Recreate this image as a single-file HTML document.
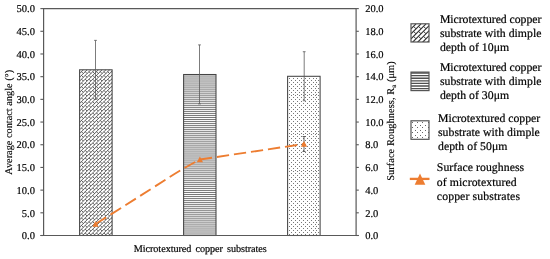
<!DOCTYPE html>
<html><head><meta charset="utf-8"><title>chart</title>
<style>
html,body{margin:0;padding:0;background:#fff;}
svg{display:block}
text{font-family:"Liberation Serif",serif;fill:#000;stroke:#000;stroke-width:0.18px;text-rendering:geometricPrecision}
</style></head><body>
<svg width="550" height="259" viewBox="0 0 550 259">
<rect width="550" height="259" fill="#fff"/>

<clipPath id="c1"><rect x="79.6" y="69.8" width="32.5" height="165.7"/></clipPath>
<path clip-path="url(#c1)" d="M79.6,73.55l3.75,-3.75M79.6,77.3l7.5,-7.5M79.6,81.05l11.25,-11.25M79.6,84.8l15,-15M79.6,88.55l18.75,-18.75M79.6,92.3l22.5,-22.5M79.6,96.05l26.25,-26.25M79.6,99.8l30,-30M79.6,103.55l33.75,-33.75M79.6,107.3l37.5,-37.5M79.6,111.05l41.25,-41.25M79.6,114.8l45,-45M79.6,118.55l48.75,-48.75M79.6,122.3l52.5,-52.5M79.6,126.05l56.25,-56.25M79.6,129.8l60,-60M79.6,133.55l63.75,-63.75M79.6,137.3l67.5,-67.5M79.6,141.05l71.25,-71.25M79.6,144.8l75,-75M79.6,148.55l78.75,-78.75M79.6,152.3l82.5,-82.5M79.6,156.05l86.25,-86.25M79.6,159.8l90,-90M79.6,163.55l93.75,-93.75M79.6,167.3l97.5,-97.5M79.6,171.05l101.25,-101.25M79.6,174.8l105,-105M79.6,178.55l108.75,-108.75M79.6,182.3l112.5,-112.5M79.6,186.05l116.25,-116.25M79.6,189.8l120,-120M79.6,193.55l123.75,-123.75M79.6,197.3l127.5,-127.5M79.6,201.05l131.25,-131.25M79.6,204.8l135,-135M79.6,208.55l138.75,-138.75M79.6,212.3l142.5,-142.5M79.6,216.05l146.25,-146.25M79.6,219.8l150,-150M79.6,223.55l153.75,-153.75M79.6,227.3l157.5,-157.5M79.6,231.05l161.25,-161.25M79.6,234.8l165,-165M79.6,238.55l168.75,-168.75M79.6,242.3l172.5,-172.5M79.6,246.05l176.25,-176.25M79.6,249.8l180,-180M79.6,253.55l183.75,-183.75M79.6,257.3l187.5,-187.5M79.6,261.05l191.25,-191.25M79.6,264.8l195,-195" stroke="#333" stroke-width="0.75" fill="none"/>
<path clip-path="url(#c1)" d="M77.72,67.92l1.88,1.88M77.72,71.67l1.88,1.88M77.72,75.42l1.88,1.88M77.72,79.17l1.88,1.88M77.72,82.92l1.88,1.88M77.72,86.67l1.88,1.88M77.72,90.42l1.88,1.88M77.72,94.17l1.88,1.88M77.72,97.92l1.88,1.88M77.72,101.67l1.88,1.88M77.72,105.42l1.88,1.88M77.72,109.17l1.88,1.88M77.72,112.92l1.88,1.88M77.72,116.67l1.88,1.88M77.72,120.42l1.88,1.88M77.72,124.17l1.88,1.88M77.72,127.92l1.88,1.88M77.72,131.68l1.88,1.88M77.72,135.43l1.88,1.88M77.72,139.18l1.88,1.88M77.72,142.93l1.88,1.88M77.72,146.68l1.88,1.88M77.72,150.43l1.88,1.88M77.72,154.18l1.88,1.88M77.72,157.93l1.88,1.88M77.72,161.68l1.88,1.88M77.72,165.43l1.88,1.88M77.72,169.18l1.88,1.88M77.72,172.93l1.88,1.88M77.72,176.68l1.88,1.88M77.72,180.43l1.88,1.88M77.72,184.18l1.88,1.88M77.72,187.93l1.88,1.88M77.72,191.68l1.88,1.88M77.72,195.43l1.88,1.88M77.72,199.18l1.88,1.88M77.72,202.93l1.88,1.88M77.72,206.68l1.88,1.88M77.72,210.43l1.88,1.88M77.72,214.18l1.88,1.88M77.72,217.93l1.88,1.88M77.72,221.68l1.88,1.88M77.72,225.43l1.88,1.88M77.72,229.18l1.88,1.88M77.72,232.93l1.88,1.88M77.72,236.68l1.88,1.88M77.72,240.43l1.88,1.88M81.47,67.92l1.88,1.88M81.47,71.67l1.88,1.88M81.47,75.42l1.88,1.88M81.47,79.17l1.88,1.88M81.47,82.92l1.88,1.88M81.47,86.67l1.88,1.88M81.47,90.42l1.88,1.88M81.47,94.17l1.88,1.88M81.47,97.92l1.88,1.88M81.47,101.67l1.88,1.88M81.47,105.42l1.88,1.88M81.47,109.17l1.88,1.88M81.47,112.92l1.88,1.88M81.47,116.67l1.88,1.88M81.47,120.42l1.88,1.88M81.47,124.17l1.88,1.88M81.47,127.92l1.88,1.88M81.47,131.68l1.88,1.88M81.47,135.43l1.88,1.88M81.47,139.18l1.88,1.88M81.47,142.93l1.88,1.88M81.47,146.68l1.88,1.88M81.47,150.43l1.88,1.88M81.47,154.18l1.88,1.88M81.47,157.93l1.88,1.88M81.47,161.68l1.88,1.88M81.47,165.43l1.88,1.88M81.47,169.18l1.88,1.88M81.47,172.93l1.88,1.88M81.47,176.68l1.88,1.88M81.47,180.43l1.88,1.88M81.47,184.18l1.88,1.88M81.47,187.93l1.88,1.88M81.47,191.68l1.88,1.88M81.47,195.43l1.88,1.88M81.47,199.18l1.88,1.88M81.47,202.93l1.88,1.88M81.47,206.68l1.88,1.88M81.47,210.43l1.88,1.88M81.47,214.18l1.88,1.88M81.47,217.93l1.88,1.88M81.47,221.68l1.88,1.88M81.47,225.43l1.88,1.88M81.47,229.18l1.88,1.88M81.47,232.93l1.88,1.88M81.47,236.68l1.88,1.88M81.47,240.43l1.88,1.88M85.22,67.92l1.88,1.88M85.22,71.67l1.88,1.88M85.22,75.42l1.88,1.88M85.22,79.17l1.88,1.88M85.22,82.92l1.88,1.88M85.22,86.67l1.88,1.88M85.22,90.42l1.88,1.88M85.22,94.17l1.88,1.88M85.22,97.92l1.88,1.88M85.22,101.67l1.88,1.88M85.22,105.42l1.88,1.88M85.22,109.17l1.88,1.88M85.22,112.92l1.88,1.88M85.22,116.67l1.88,1.88M85.22,120.42l1.88,1.88M85.22,124.17l1.88,1.88M85.22,127.92l1.88,1.88M85.22,131.68l1.88,1.88M85.22,135.43l1.88,1.88M85.22,139.18l1.88,1.88M85.22,142.93l1.88,1.88M85.22,146.68l1.88,1.88M85.22,150.43l1.88,1.88M85.22,154.18l1.88,1.88M85.22,157.93l1.88,1.88M85.22,161.68l1.88,1.88M85.22,165.43l1.88,1.88M85.22,169.18l1.88,1.88M85.22,172.93l1.88,1.88M85.22,176.68l1.88,1.88M85.22,180.43l1.88,1.88M85.22,184.18l1.88,1.88M85.22,187.93l1.88,1.88M85.22,191.68l1.88,1.88M85.22,195.43l1.88,1.88M85.22,199.18l1.88,1.88M85.22,202.93l1.88,1.88M85.22,206.68l1.88,1.88M85.22,210.43l1.88,1.88M85.22,214.18l1.88,1.88M85.22,217.93l1.88,1.88M85.22,221.68l1.88,1.88M85.22,225.43l1.88,1.88M85.22,229.18l1.88,1.88M85.22,232.93l1.88,1.88M85.22,236.68l1.88,1.88M85.22,240.43l1.88,1.88M88.97,67.92l1.88,1.88M88.97,71.67l1.88,1.88M88.97,75.42l1.88,1.88M88.97,79.17l1.88,1.88M88.97,82.92l1.88,1.88M88.97,86.67l1.88,1.88M88.97,90.42l1.88,1.88M88.97,94.17l1.88,1.88M88.97,97.92l1.88,1.88M88.97,101.67l1.88,1.88M88.97,105.42l1.88,1.88M88.97,109.17l1.88,1.88M88.97,112.92l1.88,1.88M88.97,116.67l1.88,1.88M88.97,120.42l1.88,1.88M88.97,124.17l1.88,1.88M88.97,127.92l1.88,1.88M88.97,131.68l1.88,1.88M88.97,135.43l1.88,1.88M88.97,139.18l1.88,1.88M88.97,142.93l1.88,1.88M88.97,146.68l1.88,1.88M88.97,150.43l1.88,1.88M88.97,154.18l1.88,1.88M88.97,157.93l1.88,1.88M88.97,161.68l1.88,1.88M88.97,165.43l1.88,1.88M88.97,169.18l1.88,1.88M88.97,172.93l1.88,1.88M88.97,176.68l1.88,1.88M88.97,180.43l1.88,1.88M88.97,184.18l1.88,1.88M88.97,187.93l1.88,1.88M88.97,191.68l1.88,1.88M88.97,195.43l1.88,1.88M88.97,199.18l1.88,1.88M88.97,202.93l1.88,1.88M88.97,206.68l1.88,1.88M88.97,210.43l1.88,1.88M88.97,214.18l1.88,1.88M88.97,217.93l1.88,1.88M88.97,221.68l1.88,1.88M88.97,225.43l1.88,1.88M88.97,229.18l1.88,1.88M88.97,232.93l1.88,1.88M88.97,236.68l1.88,1.88M88.97,240.43l1.88,1.88M92.72,67.92l1.88,1.88M92.72,71.67l1.88,1.88M92.72,75.42l1.88,1.88M92.72,79.17l1.88,1.88M92.72,82.92l1.88,1.88M92.72,86.67l1.88,1.88M92.72,90.42l1.88,1.88M92.72,94.17l1.88,1.88M92.72,97.92l1.88,1.88M92.72,101.67l1.88,1.88M92.72,105.42l1.88,1.88M92.72,109.17l1.88,1.88M92.72,112.92l1.88,1.88M92.72,116.67l1.88,1.88M92.72,120.42l1.88,1.88M92.72,124.17l1.88,1.88M92.72,127.92l1.88,1.88M92.72,131.68l1.88,1.88M92.72,135.43l1.88,1.88M92.72,139.18l1.88,1.88M92.72,142.93l1.88,1.88M92.72,146.68l1.88,1.88M92.72,150.43l1.88,1.88M92.72,154.18l1.88,1.88M92.72,157.93l1.88,1.88M92.72,161.68l1.88,1.88M92.72,165.43l1.88,1.88M92.72,169.18l1.88,1.88M92.72,172.93l1.88,1.88M92.72,176.68l1.88,1.88M92.72,180.43l1.88,1.88M92.72,184.18l1.88,1.88M92.72,187.93l1.88,1.88M92.72,191.68l1.88,1.88M92.72,195.43l1.88,1.88M92.72,199.18l1.88,1.88M92.72,202.93l1.88,1.88M92.72,206.68l1.88,1.88M92.72,210.43l1.88,1.88M92.72,214.18l1.88,1.88M92.72,217.93l1.88,1.88M92.72,221.68l1.88,1.88M92.72,225.43l1.88,1.88M92.72,229.18l1.88,1.88M92.72,232.93l1.88,1.88M92.72,236.68l1.88,1.88M92.72,240.43l1.88,1.88M96.47,67.92l1.88,1.88M96.47,71.67l1.88,1.88M96.47,75.42l1.88,1.88M96.47,79.17l1.88,1.88M96.47,82.92l1.88,1.88M96.47,86.67l1.88,1.88M96.47,90.42l1.88,1.88M96.47,94.17l1.88,1.88M96.47,97.92l1.88,1.88M96.47,101.67l1.88,1.88M96.47,105.42l1.88,1.88M96.47,109.17l1.88,1.88M96.47,112.92l1.88,1.88M96.47,116.67l1.88,1.88M96.47,120.42l1.88,1.88M96.47,124.17l1.88,1.88M96.47,127.92l1.88,1.88M96.47,131.68l1.88,1.88M96.47,135.43l1.88,1.88M96.47,139.18l1.88,1.88M96.47,142.93l1.88,1.88M96.47,146.68l1.88,1.88M96.47,150.43l1.88,1.88M96.47,154.18l1.88,1.88M96.47,157.93l1.88,1.88M96.47,161.68l1.88,1.88M96.47,165.43l1.88,1.88M96.47,169.18l1.88,1.88M96.47,172.93l1.88,1.88M96.47,176.68l1.88,1.88M96.47,180.43l1.88,1.88M96.47,184.18l1.88,1.88M96.47,187.93l1.88,1.88M96.47,191.68l1.88,1.88M96.47,195.43l1.88,1.88M96.47,199.18l1.88,1.88M96.47,202.93l1.88,1.88M96.47,206.68l1.88,1.88M96.47,210.43l1.88,1.88M96.47,214.18l1.88,1.88M96.47,217.93l1.88,1.88M96.47,221.68l1.88,1.88M96.47,225.43l1.88,1.88M96.47,229.18l1.88,1.88M96.47,232.93l1.88,1.88M96.47,236.68l1.88,1.88M96.47,240.43l1.88,1.88M100.22,67.92l1.88,1.88M100.22,71.67l1.88,1.88M100.22,75.42l1.88,1.88M100.22,79.17l1.88,1.88M100.22,82.92l1.88,1.88M100.22,86.67l1.88,1.88M100.22,90.42l1.88,1.88M100.22,94.17l1.88,1.88M100.22,97.92l1.88,1.88M100.22,101.67l1.88,1.88M100.22,105.42l1.88,1.88M100.22,109.17l1.88,1.88M100.22,112.92l1.88,1.88M100.22,116.67l1.88,1.88M100.22,120.42l1.88,1.88M100.22,124.17l1.88,1.88M100.22,127.92l1.88,1.88M100.22,131.68l1.88,1.88M100.22,135.43l1.88,1.88M100.22,139.18l1.88,1.88M100.22,142.93l1.88,1.88M100.22,146.68l1.88,1.88M100.22,150.43l1.88,1.88M100.22,154.18l1.88,1.88M100.22,157.93l1.88,1.88M100.22,161.68l1.88,1.88M100.22,165.43l1.88,1.88M100.22,169.18l1.88,1.88M100.22,172.93l1.88,1.88M100.22,176.68l1.88,1.88M100.22,180.43l1.88,1.88M100.22,184.18l1.88,1.88M100.22,187.93l1.88,1.88M100.22,191.68l1.88,1.88M100.22,195.43l1.88,1.88M100.22,199.18l1.88,1.88M100.22,202.93l1.88,1.88M100.22,206.68l1.88,1.88M100.22,210.43l1.88,1.88M100.22,214.18l1.88,1.88M100.22,217.93l1.88,1.88M100.22,221.68l1.88,1.88M100.22,225.43l1.88,1.88M100.22,229.18l1.88,1.88M100.22,232.93l1.88,1.88M100.22,236.68l1.88,1.88M100.22,240.43l1.88,1.88M103.97,67.92l1.88,1.88M103.97,71.67l1.88,1.88M103.97,75.42l1.88,1.88M103.97,79.17l1.88,1.88M103.97,82.92l1.88,1.88M103.97,86.67l1.88,1.88M103.97,90.42l1.88,1.88M103.97,94.17l1.88,1.88M103.97,97.92l1.88,1.88M103.97,101.67l1.88,1.88M103.97,105.42l1.88,1.88M103.97,109.17l1.88,1.88M103.97,112.92l1.88,1.88M103.97,116.67l1.88,1.88M103.97,120.42l1.88,1.88M103.97,124.17l1.88,1.88M103.97,127.92l1.88,1.88M103.97,131.68l1.88,1.88M103.97,135.43l1.88,1.88M103.97,139.18l1.88,1.88M103.97,142.93l1.88,1.88M103.97,146.68l1.88,1.88M103.97,150.43l1.88,1.88M103.97,154.18l1.88,1.88M103.97,157.93l1.88,1.88M103.97,161.68l1.88,1.88M103.97,165.43l1.88,1.88M103.97,169.18l1.88,1.88M103.97,172.93l1.88,1.88M103.97,176.68l1.88,1.88M103.97,180.43l1.88,1.88M103.97,184.18l1.88,1.88M103.97,187.93l1.88,1.88M103.97,191.68l1.88,1.88M103.97,195.43l1.88,1.88M103.97,199.18l1.88,1.88M103.97,202.93l1.88,1.88M103.97,206.68l1.88,1.88M103.97,210.43l1.88,1.88M103.97,214.18l1.88,1.88M103.97,217.93l1.88,1.88M103.97,221.68l1.88,1.88M103.97,225.43l1.88,1.88M103.97,229.18l1.88,1.88M103.97,232.93l1.88,1.88M103.97,236.68l1.88,1.88M103.97,240.43l1.88,1.88M107.72,67.92l1.88,1.88M107.72,71.67l1.88,1.88M107.72,75.42l1.88,1.88M107.72,79.17l1.88,1.88M107.72,82.92l1.88,1.88M107.72,86.67l1.88,1.88M107.72,90.42l1.88,1.88M107.72,94.17l1.88,1.88M107.72,97.92l1.88,1.88M107.72,101.67l1.88,1.88M107.72,105.42l1.88,1.88M107.72,109.17l1.88,1.88M107.72,112.92l1.88,1.88M107.72,116.67l1.88,1.88M107.72,120.42l1.88,1.88M107.72,124.17l1.88,1.88M107.72,127.92l1.88,1.88M107.72,131.68l1.88,1.88M107.72,135.43l1.88,1.88M107.72,139.18l1.88,1.88M107.72,142.93l1.88,1.88M107.72,146.68l1.88,1.88M107.72,150.43l1.88,1.88M107.72,154.18l1.88,1.88M107.72,157.93l1.88,1.88M107.72,161.68l1.88,1.88M107.72,165.43l1.88,1.88M107.72,169.18l1.88,1.88M107.72,172.93l1.88,1.88M107.72,176.68l1.88,1.88M107.72,180.43l1.88,1.88M107.72,184.18l1.88,1.88M107.72,187.93l1.88,1.88M107.72,191.68l1.88,1.88M107.72,195.43l1.88,1.88M107.72,199.18l1.88,1.88M107.72,202.93l1.88,1.88M107.72,206.68l1.88,1.88M107.72,210.43l1.88,1.88M107.72,214.18l1.88,1.88M107.72,217.93l1.88,1.88M107.72,221.68l1.88,1.88M107.72,225.43l1.88,1.88M107.72,229.18l1.88,1.88M107.72,232.93l1.88,1.88M107.72,236.68l1.88,1.88M107.72,240.43l1.88,1.88M111.47,67.92l1.88,1.88M111.47,71.67l1.88,1.88M111.47,75.42l1.88,1.88M111.47,79.17l1.88,1.88M111.47,82.92l1.88,1.88M111.47,86.67l1.88,1.88M111.47,90.42l1.88,1.88M111.47,94.17l1.88,1.88M111.47,97.92l1.88,1.88M111.47,101.67l1.88,1.88M111.47,105.42l1.88,1.88M111.47,109.17l1.88,1.88M111.47,112.92l1.88,1.88M111.47,116.67l1.88,1.88M111.47,120.42l1.88,1.88M111.47,124.17l1.88,1.88M111.47,127.92l1.88,1.88M111.47,131.68l1.88,1.88M111.47,135.43l1.88,1.88M111.47,139.18l1.88,1.88M111.47,142.93l1.88,1.88M111.47,146.68l1.88,1.88M111.47,150.43l1.88,1.88M111.47,154.18l1.88,1.88M111.47,157.93l1.88,1.88M111.47,161.68l1.88,1.88M111.47,165.43l1.88,1.88M111.47,169.18l1.88,1.88M111.47,172.93l1.88,1.88M111.47,176.68l1.88,1.88M111.47,180.43l1.88,1.88M111.47,184.18l1.88,1.88M111.47,187.93l1.88,1.88M111.47,191.68l1.88,1.88M111.47,195.43l1.88,1.88M111.47,199.18l1.88,1.88M111.47,202.93l1.88,1.88M111.47,206.68l1.88,1.88M111.47,210.43l1.88,1.88M111.47,214.18l1.88,1.88M111.47,217.93l1.88,1.88M111.47,221.68l1.88,1.88M111.47,225.43l1.88,1.88M111.47,229.18l1.88,1.88M111.47,232.93l1.88,1.88M111.47,236.68l1.88,1.88M111.47,240.43l1.88,1.88M115.22,67.92l1.88,1.88M115.22,71.67l1.88,1.88M115.22,75.42l1.88,1.88M115.22,79.17l1.88,1.88M115.22,82.92l1.88,1.88M115.22,86.67l1.88,1.88M115.22,90.42l1.88,1.88M115.22,94.17l1.88,1.88M115.22,97.92l1.88,1.88M115.22,101.67l1.88,1.88M115.22,105.42l1.88,1.88M115.22,109.17l1.88,1.88M115.22,112.92l1.88,1.88M115.22,116.67l1.88,1.88M115.22,120.42l1.88,1.88M115.22,124.17l1.88,1.88M115.22,127.92l1.88,1.88M115.22,131.68l1.88,1.88M115.22,135.43l1.88,1.88M115.22,139.18l1.88,1.88M115.22,142.93l1.88,1.88M115.22,146.68l1.88,1.88M115.22,150.43l1.88,1.88M115.22,154.18l1.88,1.88M115.22,157.93l1.88,1.88M115.22,161.68l1.88,1.88M115.22,165.43l1.88,1.88M115.22,169.18l1.88,1.88M115.22,172.93l1.88,1.88M115.22,176.68l1.88,1.88M115.22,180.43l1.88,1.88M115.22,184.18l1.88,1.88M115.22,187.93l1.88,1.88M115.22,191.68l1.88,1.88M115.22,195.43l1.88,1.88M115.22,199.18l1.88,1.88M115.22,202.93l1.88,1.88M115.22,206.68l1.88,1.88M115.22,210.43l1.88,1.88M115.22,214.18l1.88,1.88M115.22,217.93l1.88,1.88M115.22,221.68l1.88,1.88M115.22,225.43l1.88,1.88M115.22,229.18l1.88,1.88M115.22,232.93l1.88,1.88M115.22,236.68l1.88,1.88M115.22,240.43l1.88,1.88" stroke="#333" stroke-width="0.8" fill="none"/>
<path d="M183.6,76.06H216M183.6,78.03H216M183.6,80.01H216M183.6,81.98H216M183.6,83.96H216M183.6,85.93H216M183.6,87.9H216M183.6,89.88H216M183.6,91.85H216M183.6,93.83H216M183.6,95.8H216M183.6,97.77H216M183.6,99.75H216M183.6,101.72H216M183.6,103.7H216M183.6,105.67H216M183.6,107.64H216M183.6,109.62H216M183.6,111.59H216M183.6,113.57H216M183.6,115.54H216M183.6,117.51H216M183.6,119.49H216M183.6,121.46H216M183.6,123.44H216M183.6,125.41H216M183.6,127.38H216M183.6,129.36H216M183.6,131.33H216M183.6,133.31H216M183.6,135.28H216M183.6,137.25H216M183.6,139.23H216M183.6,141.2H216M183.6,143.18H216M183.6,145.15H216M183.6,147.12H216M183.6,149.1H216M183.6,151.07H216M183.6,153.05H216M183.6,155.02H216M183.6,156.99H216M183.6,158.97H216M183.6,160.94H216M183.6,162.92H216M183.6,164.89H216M183.6,166.86H216M183.6,168.84H216M183.6,170.81H216M183.6,172.79H216M183.6,174.76H216M183.6,176.73H216M183.6,178.71H216M183.6,180.68H216M183.6,182.66H216M183.6,184.63H216M183.6,186.6H216M183.6,188.58H216M183.6,190.55H216M183.6,192.53H216M183.6,194.5H216M183.6,196.47H216M183.6,198.45H216M183.6,200.42H216M183.6,202.4H216M183.6,204.37H216M183.6,206.34H216M183.6,208.32H216M183.6,210.29H216M183.6,212.27H216M183.6,214.24H216M183.6,216.21H216M183.6,218.19H216M183.6,220.16H216M183.6,222.14H216M183.6,224.11H216M183.6,226.08H216M183.6,228.06H216M183.6,230.03H216M183.6,232.01H216M183.6,233.98H216" stroke="#555" stroke-width="0.8" fill="none"/>
<path d="M289,78h1v1h-1zM293,78h1v1h-1zM297,78h1v1h-1zM301,78h1v1h-1zM305,78h1v1h-1zM309,78h1v1h-1zM313,78h1v1h-1zM316,78h1v1h-1zM291,80h1v1h-1zM295,80h1v1h-1zM299,80h1v1h-1zM303,80h1v1h-1zM307,80h1v1h-1zM311,80h1v1h-1zM315,80h1v1h-1zM318,80h1v1h-1zM289,82h1v1h-1zM293,82h1v1h-1zM297,82h1v1h-1zM301,82h1v1h-1zM305,82h1v1h-1zM309,82h1v1h-1zM313,82h1v1h-1zM316,82h1v1h-1zM291,84h1v1h-1zM295,84h1v1h-1zM299,84h1v1h-1zM303,84h1v1h-1zM307,84h1v1h-1zM311,84h1v1h-1zM315,84h1v1h-1zM318,84h1v1h-1zM289,86h1v1h-1zM293,86h1v1h-1zM297,86h1v1h-1zM301,86h1v1h-1zM305,86h1v1h-1zM309,86h1v1h-1zM313,86h1v1h-1zM316,86h1v1h-1zM291,88h1v1h-1zM295,88h1v1h-1zM299,88h1v1h-1zM303,88h1v1h-1zM307,88h1v1h-1zM311,88h1v1h-1zM315,88h1v1h-1zM318,88h1v1h-1zM289,90h1v1h-1zM293,90h1v1h-1zM297,90h1v1h-1zM301,90h1v1h-1zM305,90h1v1h-1zM309,90h1v1h-1zM313,90h1v1h-1zM316,90h1v1h-1zM291,92h1v1h-1zM295,92h1v1h-1zM299,92h1v1h-1zM303,92h1v1h-1zM307,92h1v1h-1zM311,92h1v1h-1zM315,92h1v1h-1zM318,92h1v1h-1zM289,94h1v1h-1zM293,94h1v1h-1zM297,94h1v1h-1zM301,94h1v1h-1zM305,94h1v1h-1zM309,94h1v1h-1zM313,94h1v1h-1zM316,94h1v1h-1zM291,95h1v1h-1zM295,95h1v1h-1zM299,95h1v1h-1zM303,95h1v1h-1zM307,95h1v1h-1zM311,95h1v1h-1zM315,95h1v1h-1zM318,95h1v1h-1zM289,97h1v1h-1zM293,97h1v1h-1zM297,97h1v1h-1zM301,97h1v1h-1zM305,97h1v1h-1zM309,97h1v1h-1zM313,97h1v1h-1zM316,97h1v1h-1zM291,99h1v1h-1zM295,99h1v1h-1zM299,99h1v1h-1zM303,99h1v1h-1zM307,99h1v1h-1zM311,99h1v1h-1zM315,99h1v1h-1zM318,99h1v1h-1zM289,101h1v1h-1zM293,101h1v1h-1zM297,101h1v1h-1zM301,101h1v1h-1zM305,101h1v1h-1zM309,101h1v1h-1zM313,101h1v1h-1zM316,101h1v1h-1zM291,103h1v1h-1zM295,103h1v1h-1zM299,103h1v1h-1zM303,103h1v1h-1zM307,103h1v1h-1zM311,103h1v1h-1zM315,103h1v1h-1zM318,103h1v1h-1zM289,105h1v1h-1zM293,105h1v1h-1zM297,105h1v1h-1zM301,105h1v1h-1zM305,105h1v1h-1zM309,105h1v1h-1zM313,105h1v1h-1zM316,105h1v1h-1zM291,107h1v1h-1zM295,107h1v1h-1zM299,107h1v1h-1zM303,107h1v1h-1zM307,107h1v1h-1zM311,107h1v1h-1zM315,107h1v1h-1zM318,107h1v1h-1zM289,109h1v1h-1zM293,109h1v1h-1zM297,109h1v1h-1zM301,109h1v1h-1zM305,109h1v1h-1zM309,109h1v1h-1zM313,109h1v1h-1zM316,109h1v1h-1zM291,111h1v1h-1zM295,111h1v1h-1zM299,111h1v1h-1zM303,111h1v1h-1zM307,111h1v1h-1zM311,111h1v1h-1zM315,111h1v1h-1zM318,111h1v1h-1zM289,113h1v1h-1zM293,113h1v1h-1zM297,113h1v1h-1zM301,113h1v1h-1zM305,113h1v1h-1zM309,113h1v1h-1zM313,113h1v1h-1zM316,113h1v1h-1zM291,115h1v1h-1zM295,115h1v1h-1zM299,115h1v1h-1zM303,115h1v1h-1zM307,115h1v1h-1zM311,115h1v1h-1zM315,115h1v1h-1zM318,115h1v1h-1zM289,117h1v1h-1zM293,117h1v1h-1zM297,117h1v1h-1zM301,117h1v1h-1zM305,117h1v1h-1zM309,117h1v1h-1zM313,117h1v1h-1zM316,117h1v1h-1zM291,119h1v1h-1zM295,119h1v1h-1zM299,119h1v1h-1zM303,119h1v1h-1zM307,119h1v1h-1zM311,119h1v1h-1zM315,119h1v1h-1zM318,119h1v1h-1zM289,121h1v1h-1zM293,121h1v1h-1zM297,121h1v1h-1zM301,121h1v1h-1zM305,121h1v1h-1zM309,121h1v1h-1zM313,121h1v1h-1zM316,121h1v1h-1zM291,123h1v1h-1zM295,123h1v1h-1zM299,123h1v1h-1zM303,123h1v1h-1zM307,123h1v1h-1zM311,123h1v1h-1zM315,123h1v1h-1zM318,123h1v1h-1zM289,125h1v1h-1zM293,125h1v1h-1zM297,125h1v1h-1zM301,125h1v1h-1zM305,125h1v1h-1zM309,125h1v1h-1zM313,125h1v1h-1zM316,125h1v1h-1zM291,127h1v1h-1zM295,127h1v1h-1zM299,127h1v1h-1zM303,127h1v1h-1zM307,127h1v1h-1zM311,127h1v1h-1zM315,127h1v1h-1zM318,127h1v1h-1zM289,129h1v1h-1zM293,129h1v1h-1zM297,129h1v1h-1zM301,129h1v1h-1zM305,129h1v1h-1zM309,129h1v1h-1zM313,129h1v1h-1zM316,129h1v1h-1zM291,131h1v1h-1zM295,131h1v1h-1zM299,131h1v1h-1zM303,131h1v1h-1zM307,131h1v1h-1zM311,131h1v1h-1zM315,131h1v1h-1zM318,131h1v1h-1zM289,133h1v1h-1zM293,133h1v1h-1zM297,133h1v1h-1zM301,133h1v1h-1zM305,133h1v1h-1zM309,133h1v1h-1zM313,133h1v1h-1zM316,133h1v1h-1zM291,134h1v1h-1zM295,134h1v1h-1zM299,134h1v1h-1zM303,134h1v1h-1zM307,134h1v1h-1zM311,134h1v1h-1zM315,134h1v1h-1zM318,134h1v1h-1zM289,136h1v1h-1zM293,136h1v1h-1zM297,136h1v1h-1zM301,136h1v1h-1zM305,136h1v1h-1zM309,136h1v1h-1zM313,136h1v1h-1zM316,136h1v1h-1zM291,138h1v1h-1zM295,138h1v1h-1zM299,138h1v1h-1zM303,138h1v1h-1zM307,138h1v1h-1zM311,138h1v1h-1zM315,138h1v1h-1zM318,138h1v1h-1zM289,140h1v1h-1zM293,140h1v1h-1zM297,140h1v1h-1zM301,140h1v1h-1zM305,140h1v1h-1zM309,140h1v1h-1zM313,140h1v1h-1zM316,140h1v1h-1zM291,142h1v1h-1zM295,142h1v1h-1zM299,142h1v1h-1zM303,142h1v1h-1zM307,142h1v1h-1zM311,142h1v1h-1zM315,142h1v1h-1zM318,142h1v1h-1zM289,144h1v1h-1zM293,144h1v1h-1zM297,144h1v1h-1zM301,144h1v1h-1zM305,144h1v1h-1zM309,144h1v1h-1zM313,144h1v1h-1zM316,144h1v1h-1zM291,146h1v1h-1zM295,146h1v1h-1zM299,146h1v1h-1zM303,146h1v1h-1zM307,146h1v1h-1zM311,146h1v1h-1zM315,146h1v1h-1zM318,146h1v1h-1zM289,148h1v1h-1zM293,148h1v1h-1zM297,148h1v1h-1zM301,148h1v1h-1zM305,148h1v1h-1zM309,148h1v1h-1zM313,148h1v1h-1zM316,148h1v1h-1zM291,150h1v1h-1zM295,150h1v1h-1zM299,150h1v1h-1zM303,150h1v1h-1zM307,150h1v1h-1zM311,150h1v1h-1zM315,150h1v1h-1zM318,150h1v1h-1zM289,152h1v1h-1zM293,152h1v1h-1zM297,152h1v1h-1zM301,152h1v1h-1zM305,152h1v1h-1zM309,152h1v1h-1zM313,152h1v1h-1zM316,152h1v1h-1zM291,154h1v1h-1zM295,154h1v1h-1zM299,154h1v1h-1zM303,154h1v1h-1zM307,154h1v1h-1zM311,154h1v1h-1zM315,154h1v1h-1zM318,154h1v1h-1zM289,156h1v1h-1zM293,156h1v1h-1zM297,156h1v1h-1zM301,156h1v1h-1zM305,156h1v1h-1zM309,156h1v1h-1zM313,156h1v1h-1zM316,156h1v1h-1zM291,158h1v1h-1zM295,158h1v1h-1zM299,158h1v1h-1zM303,158h1v1h-1zM307,158h1v1h-1zM311,158h1v1h-1zM315,158h1v1h-1zM318,158h1v1h-1zM289,160h1v1h-1zM293,160h1v1h-1zM297,160h1v1h-1zM301,160h1v1h-1zM305,160h1v1h-1zM309,160h1v1h-1zM313,160h1v1h-1zM316,160h1v1h-1zM291,162h1v1h-1zM295,162h1v1h-1zM299,162h1v1h-1zM303,162h1v1h-1zM307,162h1v1h-1zM311,162h1v1h-1zM315,162h1v1h-1zM318,162h1v1h-1zM289,164h1v1h-1zM293,164h1v1h-1zM297,164h1v1h-1zM301,164h1v1h-1zM305,164h1v1h-1zM309,164h1v1h-1zM313,164h1v1h-1zM316,164h1v1h-1zM291,166h1v1h-1zM295,166h1v1h-1zM299,166h1v1h-1zM303,166h1v1h-1zM307,166h1v1h-1zM311,166h1v1h-1zM315,166h1v1h-1zM318,166h1v1h-1zM289,168h1v1h-1zM293,168h1v1h-1zM297,168h1v1h-1zM301,168h1v1h-1zM305,168h1v1h-1zM309,168h1v1h-1zM313,168h1v1h-1zM316,168h1v1h-1zM291,170h1v1h-1zM295,170h1v1h-1zM299,170h1v1h-1zM303,170h1v1h-1zM307,170h1v1h-1zM311,170h1v1h-1zM315,170h1v1h-1zM318,170h1v1h-1zM289,171h1v1h-1zM293,171h1v1h-1zM297,171h1v1h-1zM301,171h1v1h-1zM305,171h1v1h-1zM309,171h1v1h-1zM313,171h1v1h-1zM316,171h1v1h-1zM291,173h1v1h-1zM295,173h1v1h-1zM299,173h1v1h-1zM303,173h1v1h-1zM307,173h1v1h-1zM311,173h1v1h-1zM315,173h1v1h-1zM318,173h1v1h-1zM289,175h1v1h-1zM293,175h1v1h-1zM297,175h1v1h-1zM301,175h1v1h-1zM305,175h1v1h-1zM309,175h1v1h-1zM313,175h1v1h-1zM316,175h1v1h-1zM291,177h1v1h-1zM295,177h1v1h-1zM299,177h1v1h-1zM303,177h1v1h-1zM307,177h1v1h-1zM311,177h1v1h-1zM315,177h1v1h-1zM318,177h1v1h-1zM289,179h1v1h-1zM293,179h1v1h-1zM297,179h1v1h-1zM301,179h1v1h-1zM305,179h1v1h-1zM309,179h1v1h-1zM313,179h1v1h-1zM316,179h1v1h-1zM291,181h1v1h-1zM295,181h1v1h-1zM299,181h1v1h-1zM303,181h1v1h-1zM307,181h1v1h-1zM311,181h1v1h-1zM315,181h1v1h-1zM318,181h1v1h-1zM289,183h1v1h-1zM293,183h1v1h-1zM297,183h1v1h-1zM301,183h1v1h-1zM305,183h1v1h-1zM309,183h1v1h-1zM313,183h1v1h-1zM316,183h1v1h-1zM291,185h1v1h-1zM295,185h1v1h-1zM299,185h1v1h-1zM303,185h1v1h-1zM307,185h1v1h-1zM311,185h1v1h-1zM315,185h1v1h-1zM318,185h1v1h-1zM289,187h1v1h-1zM293,187h1v1h-1zM297,187h1v1h-1zM301,187h1v1h-1zM305,187h1v1h-1zM309,187h1v1h-1zM313,187h1v1h-1zM316,187h1v1h-1zM291,189h1v1h-1zM295,189h1v1h-1zM299,189h1v1h-1zM303,189h1v1h-1zM307,189h1v1h-1zM311,189h1v1h-1zM315,189h1v1h-1zM318,189h1v1h-1zM289,191h1v1h-1zM293,191h1v1h-1zM297,191h1v1h-1zM301,191h1v1h-1zM305,191h1v1h-1zM309,191h1v1h-1zM313,191h1v1h-1zM316,191h1v1h-1zM291,193h1v1h-1zM295,193h1v1h-1zM299,193h1v1h-1zM303,193h1v1h-1zM307,193h1v1h-1zM311,193h1v1h-1zM315,193h1v1h-1zM318,193h1v1h-1zM289,195h1v1h-1zM293,195h1v1h-1zM297,195h1v1h-1zM301,195h1v1h-1zM305,195h1v1h-1zM309,195h1v1h-1zM313,195h1v1h-1zM316,195h1v1h-1zM291,197h1v1h-1zM295,197h1v1h-1zM299,197h1v1h-1zM303,197h1v1h-1zM307,197h1v1h-1zM311,197h1v1h-1zM315,197h1v1h-1zM318,197h1v1h-1zM289,199h1v1h-1zM293,199h1v1h-1zM297,199h1v1h-1zM301,199h1v1h-1zM305,199h1v1h-1zM309,199h1v1h-1zM313,199h1v1h-1zM316,199h1v1h-1zM291,201h1v1h-1zM295,201h1v1h-1zM299,201h1v1h-1zM303,201h1v1h-1zM307,201h1v1h-1zM311,201h1v1h-1zM315,201h1v1h-1zM318,201h1v1h-1zM289,203h1v1h-1zM293,203h1v1h-1zM297,203h1v1h-1zM301,203h1v1h-1zM305,203h1v1h-1zM309,203h1v1h-1zM313,203h1v1h-1zM316,203h1v1h-1zM291,205h1v1h-1zM295,205h1v1h-1zM299,205h1v1h-1zM303,205h1v1h-1zM307,205h1v1h-1zM311,205h1v1h-1zM315,205h1v1h-1zM318,205h1v1h-1zM289,207h1v1h-1zM293,207h1v1h-1zM297,207h1v1h-1zM301,207h1v1h-1zM305,207h1v1h-1zM309,207h1v1h-1zM313,207h1v1h-1zM316,207h1v1h-1zM291,209h1v1h-1zM295,209h1v1h-1zM299,209h1v1h-1zM303,209h1v1h-1zM307,209h1v1h-1zM311,209h1v1h-1zM315,209h1v1h-1zM318,209h1v1h-1zM289,210h1v1h-1zM293,210h1v1h-1zM297,210h1v1h-1zM301,210h1v1h-1zM305,210h1v1h-1zM309,210h1v1h-1zM313,210h1v1h-1zM316,210h1v1h-1zM291,212h1v1h-1zM295,212h1v1h-1zM299,212h1v1h-1zM303,212h1v1h-1zM307,212h1v1h-1zM311,212h1v1h-1zM315,212h1v1h-1zM318,212h1v1h-1zM289,214h1v1h-1zM293,214h1v1h-1zM297,214h1v1h-1zM301,214h1v1h-1zM305,214h1v1h-1zM309,214h1v1h-1zM313,214h1v1h-1zM316,214h1v1h-1zM291,216h1v1h-1zM295,216h1v1h-1zM299,216h1v1h-1zM303,216h1v1h-1zM307,216h1v1h-1zM311,216h1v1h-1zM315,216h1v1h-1zM318,216h1v1h-1zM289,218h1v1h-1zM293,218h1v1h-1zM297,218h1v1h-1zM301,218h1v1h-1zM305,218h1v1h-1zM309,218h1v1h-1zM313,218h1v1h-1zM316,218h1v1h-1zM291,220h1v1h-1zM295,220h1v1h-1zM299,220h1v1h-1zM303,220h1v1h-1zM307,220h1v1h-1zM311,220h1v1h-1zM315,220h1v1h-1zM318,220h1v1h-1zM289,222h1v1h-1zM293,222h1v1h-1zM297,222h1v1h-1zM301,222h1v1h-1zM305,222h1v1h-1zM309,222h1v1h-1zM313,222h1v1h-1zM316,222h1v1h-1zM291,224h1v1h-1zM295,224h1v1h-1zM299,224h1v1h-1zM303,224h1v1h-1zM307,224h1v1h-1zM311,224h1v1h-1zM315,224h1v1h-1zM318,224h1v1h-1zM289,226h1v1h-1zM293,226h1v1h-1zM297,226h1v1h-1zM301,226h1v1h-1zM305,226h1v1h-1zM309,226h1v1h-1zM313,226h1v1h-1zM316,226h1v1h-1zM291,228h1v1h-1zM295,228h1v1h-1zM299,228h1v1h-1zM303,228h1v1h-1zM307,228h1v1h-1zM311,228h1v1h-1zM315,228h1v1h-1zM318,228h1v1h-1zM289,230h1v1h-1zM293,230h1v1h-1zM297,230h1v1h-1zM301,230h1v1h-1zM305,230h1v1h-1zM309,230h1v1h-1zM313,230h1v1h-1zM316,230h1v1h-1zM291,232h1v1h-1zM295,232h1v1h-1zM299,232h1v1h-1zM303,232h1v1h-1zM307,232h1v1h-1zM311,232h1v1h-1zM315,232h1v1h-1zM318,232h1v1h-1zM289,234h1v1h-1zM293,234h1v1h-1zM297,234h1v1h-1zM301,234h1v1h-1zM305,234h1v1h-1zM309,234h1v1h-1zM313,234h1v1h-1zM316,234h1v1h-1z" fill="#777"/>
<rect x="79.6" y="69.80" width="32.50" height="165.70" fill="none" stroke="#444" stroke-width="1.05"/>
<path d="M95.50,40.37 V99.36 M94.10,40.37 h2.8 M94.10,99.36 h2.8" stroke="#5a5a5a" stroke-width="0.8" fill="none"/>
<rect x="183.6" y="74.50" width="32.40" height="161.00" fill="none" stroke="#444" stroke-width="1.05"/>
<path d="M199.50,44.90 V103.90 M198.10,44.90 h2.8 M198.10,103.90 h2.8" stroke="#5a5a5a" stroke-width="0.8" fill="none"/>
<rect x="287.6" y="76.30" width="32.50" height="159.20" fill="none" stroke="#444" stroke-width="1.05"/>
<path d="M304.20,51.71 V100.72 M302.80,51.71 h2.8 M302.80,100.72 h2.8" stroke="#5a5a5a" stroke-width="0.8" fill="none"/>
<path d="M43.6,235.5 V8.6 H356.1 V235.5" stroke="#595959" stroke-width="1.2" fill="none"/>
<path d="M40.4,235.5 H358.8" stroke="#595959" stroke-width="1.2" fill="none"/>
<path d="M40.4,235.50 H43.6" stroke="#595959" stroke-width="1.1"/>
<text x="34.9" y="239.20" font-size="10.5" text-anchor="end">0.0</text>
<path d="M40.4,212.81 H43.6" stroke="#595959" stroke-width="1.1"/>
<text x="34.9" y="216.51" font-size="10.5" text-anchor="end">5.0</text>
<path d="M40.4,190.12 H43.6" stroke="#595959" stroke-width="1.1"/>
<text x="34.9" y="193.82" font-size="10.5" text-anchor="end">10.0</text>
<path d="M40.4,167.43 H43.6" stroke="#595959" stroke-width="1.1"/>
<text x="34.9" y="171.13" font-size="10.5" text-anchor="end">15.0</text>
<path d="M40.4,144.74 H43.6" stroke="#595959" stroke-width="1.1"/>
<text x="34.9" y="148.44" font-size="10.5" text-anchor="end">20.0</text>
<path d="M40.4,122.05 H43.6" stroke="#595959" stroke-width="1.1"/>
<text x="34.9" y="125.75" font-size="10.5" text-anchor="end">25.0</text>
<path d="M40.4,99.36 H43.6" stroke="#595959" stroke-width="1.1"/>
<text x="34.9" y="103.06" font-size="10.5" text-anchor="end">30.0</text>
<path d="M40.4,76.67 H43.6" stroke="#595959" stroke-width="1.1"/>
<text x="34.9" y="80.37" font-size="10.5" text-anchor="end">35.0</text>
<path d="M40.4,53.98 H43.6" stroke="#595959" stroke-width="1.1"/>
<text x="34.9" y="57.68" font-size="10.5" text-anchor="end">40.0</text>
<path d="M40.4,31.29 H43.6" stroke="#595959" stroke-width="1.1"/>
<text x="34.9" y="34.99" font-size="10.5" text-anchor="end">45.0</text>
<path d="M40.4,8.60 H43.6" stroke="#595959" stroke-width="1.1"/>
<text x="34.9" y="12.30" font-size="10.5" text-anchor="end">50.0</text>
<path d="M356.1,235.50 H358.8" stroke="#595959" stroke-width="1.1"/>
<text x="365.2" y="239.20" font-size="10.5">0.0</text>
<path d="M356.1,212.81 H358.8" stroke="#595959" stroke-width="1.1"/>
<text x="365.2" y="216.51" font-size="10.5">2.0</text>
<path d="M356.1,190.12 H358.8" stroke="#595959" stroke-width="1.1"/>
<text x="365.2" y="193.82" font-size="10.5">4.0</text>
<path d="M356.1,167.43 H358.8" stroke="#595959" stroke-width="1.1"/>
<text x="365.2" y="171.13" font-size="10.5">6.0</text>
<path d="M356.1,144.74 H358.8" stroke="#595959" stroke-width="1.1"/>
<text x="365.2" y="148.44" font-size="10.5">8.0</text>
<path d="M356.1,122.05 H358.8" stroke="#595959" stroke-width="1.1"/>
<text x="365.2" y="125.75" font-size="10.5">10.0</text>
<path d="M356.1,99.36 H358.8" stroke="#595959" stroke-width="1.1"/>
<text x="365.2" y="103.06" font-size="10.5">12.0</text>
<path d="M356.1,76.67 H358.8" stroke="#595959" stroke-width="1.1"/>
<text x="365.2" y="80.37" font-size="10.5">14.0</text>
<path d="M356.1,53.98 H358.8" stroke="#595959" stroke-width="1.1"/>
<text x="365.2" y="57.68" font-size="10.5">16.0</text>
<path d="M356.1,31.29 H358.8" stroke="#595959" stroke-width="1.1"/>
<text x="365.2" y="34.99" font-size="10.5">18.0</text>
<path d="M356.1,8.60 H358.8" stroke="#595959" stroke-width="1.1"/>
<text x="365.2" y="12.30" font-size="10.5">20.0</text>
<path d="M95.5,224.0 C166,180.3 169,176 199.9,159.5" stroke="#ED7D31" stroke-width="1.9" stroke-dasharray="12.5,5.04" fill="none"/>
<path d="M199.9,159.5 L304.0,144.0" stroke="#ED7D31" stroke-width="1.9" stroke-dasharray="12.3,4.9" fill="none"/>
<path d="M304.0,136.5 V151.5 M302.5,136.5 h3 M302.5,151.5 h3" stroke="#404040" stroke-width="0.8"/>
<path d="M95.5,221.0 l3.1,5.7 h-6.2 z" fill="#ED7D31"/>
<path d="M199.9,156.5 l3.1,5.7 h-6.2 z" fill="#ED7D31"/>
<path d="M304.0,141.0 l3.1,5.7 h-6.2 z" fill="#ED7D31"/>
<text x="133.7" y="252.3" font-size="10.2" word-spacing="1.6" textLength="133.1" lengthAdjust="spacing">Microtextured copper substrates</text>
<text transform="translate(12.3,122.3) rotate(-90)" font-size="10.3" text-anchor="middle" style="stroke-width:0.12px">Average contact angle (°)</text>
<text transform="translate(394.4,180.8) rotate(-90)" font-size="10.4" textLength="119.5" lengthAdjust="spacing" style="stroke-width:0.12px">Surface Roughness, R<tspan font-size="7" dy="1.8">a</tspan><tspan dy="-1.8"> (μm)</tspan></text>
<clipPath id="c2"><rect x="411" y="23.8" width="18" height="18.2"/></clipPath>
<path clip-path="url(#c2)" d="M411,28.8l5,-5M411,33.8l10,-10M411,38.8l15,-15M411,43.8l20,-20M411,48.8l25,-25M411,53.8l30,-30M411,58.8l35,-35" stroke="#333" stroke-width="1.15" fill="none"/>
<path clip-path="url(#c2)" d="M408.5,21.3l2.5,2.5M408.5,26.3l2.5,2.5M408.5,31.3l2.5,2.5M408.5,36.3l2.5,2.5M408.5,41.3l2.5,2.5M408.5,46.3l2.5,2.5M413.5,21.3l2.5,2.5M413.5,26.3l2.5,2.5M413.5,31.3l2.5,2.5M413.5,36.3l2.5,2.5M413.5,41.3l2.5,2.5M413.5,46.3l2.5,2.5M418.5,21.3l2.5,2.5M418.5,26.3l2.5,2.5M418.5,31.3l2.5,2.5M418.5,36.3l2.5,2.5M418.5,41.3l2.5,2.5M418.5,46.3l2.5,2.5M423.5,21.3l2.5,2.5M423.5,26.3l2.5,2.5M423.5,31.3l2.5,2.5M423.5,36.3l2.5,2.5M423.5,41.3l2.5,2.5M423.5,46.3l2.5,2.5M428.5,21.3l2.5,2.5M428.5,26.3l2.5,2.5M428.5,31.3l2.5,2.5M428.5,36.3l2.5,2.5M428.5,41.3l2.5,2.5M428.5,46.3l2.5,2.5M433.5,21.3l2.5,2.5M433.5,26.3l2.5,2.5M433.5,31.3l2.5,2.5M433.5,36.3l2.5,2.5M433.5,41.3l2.5,2.5M433.5,46.3l2.5,2.5" stroke="#333" stroke-width="1.0" fill="none"/>
<rect x="411" y="23.8" width="18" height="18.2" fill="none" stroke="#555" stroke-width="1.2"/>
<text x="439.9" y="22.7" font-size="11.75" textLength="101.5" lengthAdjust="spacing" style="stroke-width:0.2px">Microtextured copper</text>
<text x="439.9" y="37.3" font-size="11.75" textLength="101.5" lengthAdjust="spacing" style="stroke-width:0.2px">substrate with dimple</text>
<text x="439.9" y="51.2" font-size="11.75" textLength="69.2" lengthAdjust="spacing" style="stroke-width:0.2px">depth of 10μm</text>
<path d="M411,73H429M411,75.6H429M411,78.2H429M411,80.8H429M411,83.4H429M411,86H429M411,88.6H429" stroke="#505050" stroke-width="1.35" fill="none"/>
<rect x="411" y="72.1" width="18" height="18.5" fill="none" stroke="#555" stroke-width="1.2"/>
<text x="439.9" y="70.9" font-size="11.75" textLength="101.5" lengthAdjust="spacing" style="stroke-width:0.2px">Microtextured copper</text>
<text x="439.9" y="85.4" font-size="11.75" textLength="101.5" lengthAdjust="spacing" style="stroke-width:0.2px">substrate with dimple</text>
<text x="439.9" y="99.4" font-size="11.75" textLength="69.2" lengthAdjust="spacing" style="stroke-width:0.2px">depth of 30μm</text>
<path d="M412,122h1v1h-1zM417,122h1v1h-1zM422,122h1v1h-1zM428,122h1v1h-1zM415,125h1v1h-1zM420,125h1v1h-1zM425,125h1v1h-1zM412,127h1v1h-1zM417,127h1v1h-1zM422,127h1v1h-1zM428,127h1v1h-1zM415,130h1v1h-1zM420,130h1v1h-1zM425,130h1v1h-1zM412,132h1v1h-1zM417,132h1v1h-1zM422,132h1v1h-1zM428,132h1v1h-1zM415,135h1v1h-1zM420,135h1v1h-1zM425,135h1v1h-1zM412,137h1v1h-1zM417,137h1v1h-1zM422,137h1v1h-1zM428,137h1v1h-1z" fill="#666"/>
<rect x="411" y="120.8" width="18" height="18.5" fill="none" stroke="#555" stroke-width="1.2"/>
<text x="438.0" y="121.8" font-size="11.75" textLength="102.2" lengthAdjust="spacing" style="stroke-width:0.2px">Microtextured copper</text>
<text x="438.0" y="135.9" font-size="11.75" textLength="101.8" lengthAdjust="spacing" style="stroke-width:0.2px">substrate with dimple</text>
<text x="438.0" y="149.9" font-size="11.75" textLength="69.4" lengthAdjust="spacing" style="stroke-width:0.2px">depth of 50μm</text>
<path d="M409.8,178.9 H429.5" stroke="#ED7D31" stroke-width="2.3"/>
<path d="M420,173.6 l5.3,11.2 h-10.6 z" fill="#ED7D31"/>
<text x="436.8" y="171.3" font-size="11.75" textLength="87.3" lengthAdjust="spacing" style="stroke-width:0.2px">Surface roughness</text>
<text x="436.8" y="185.5" font-size="11.75" textLength="79.9" lengthAdjust="spacing" style="stroke-width:0.2px">of microtextured</text>
<text x="436.8" y="199.6" font-size="11.75" textLength="83.2" lengthAdjust="spacing" style="stroke-width:0.2px">copper substrates</text>
</svg></body></html>
